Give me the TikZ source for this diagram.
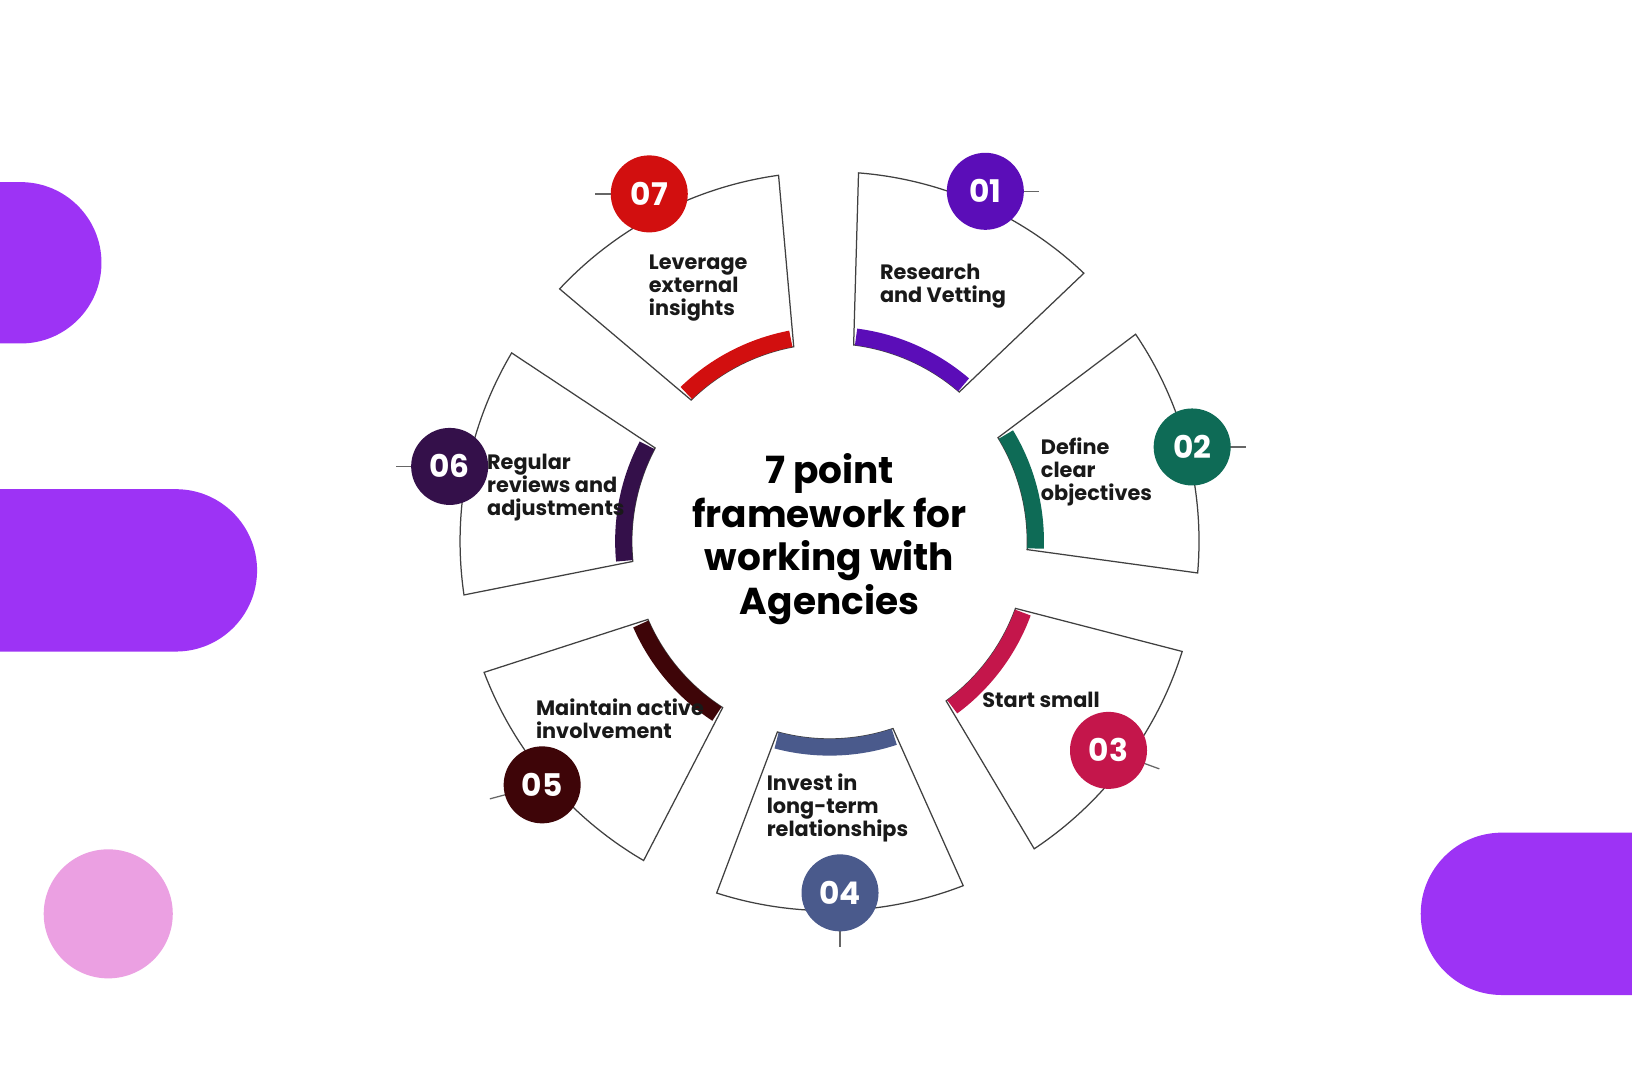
\documentclass[tikz,border=0pt]{standalone}
\usepackage{fontspec}
\setmainfont{Poppins}
\definecolor{bgpurple}{HTML}{9D33F5}
\definecolor{bgpink}{HTML}{EBA0E2}
\definecolor{cA}{HTML}{5B0DB8}
\definecolor{cB}{HTML}{0E6B56}
\definecolor{cC}{HTML}{C4164B}
\definecolor{cD}{HTML}{4A5A8C}
\definecolor{cE}{HTML}{3E0508}
\definecolor{cF}{HTML}{34104A}
\definecolor{cG}{HTML}{D20F0F}
\begin{document}
\begin{tikzpicture}[x=0.5pt,y=0.5pt,
  sectorbox/.style={draw=black!75,line width=0.6pt,fill=white},
  badge/.style={circle,minimum size=37pt,inner sep=0pt,text=white,font=\bfseries\fontsize{15}{15}\selectfont},
  lbl/.style={align=left,font=\fontsize{10}{11}\selectfont\bfseries,text=black!90},
  tick/.style={draw=black!60,line width=0.6pt}]
\clip (0,0) rectangle (1568,1045);
\fill[white] (0,0) rectangle (1568,1045);
% background shapes
\fill[bgpurple] (-5,715) -- (20,715) arc[start angle=-90,end angle=90,radius=77.5] -- (-5,870) -- cycle;
\fill[bgpurple] (-5,419) -- (169,419) arc[start angle=-90,end angle=90,radius=78] -- (-5,575) -- cycle;
\fill[bgpurple] (1575,89) -- (1443,89) arc[start angle=270,end angle=90,radius=78] -- (1575,245) -- cycle;
\fill[bgpink] (104,167) circle[radius=62];
\begin{scope}[shift={(797,525)}]
\foreach \k/\c/\col/\txt/\tk/\br/\tr in {
  01/66/cA/{Research\\and Vetting}/0/368/268,
  02/14.57/cB/{Define\\clear\\objectives}/0/360/265,
  03/-36.86/cC/{Start small}/-20/335/254,
  04/-88.29/cD/{Invest in\\long-term\\relationships}/-90/338/256,
  05/-139.71/cE/{Maintain active\\involvement}/-165/362/264,
  06/168.86/cF/{Regular\\reviews and\\adjustments}/180/372/268,
  07/117.43/cG/{Leverage\\external\\insights}/180/376/274}{
  \draw[sectorbox] (\c-17:190) arc[start angle=\c-17,end angle=\c+17,radius=190]
     -- (\c+19.5:355) arc[start angle=\c+19.5,end angle=\c-19.5,radius=355] -- cycle;
  \draw[\col,line width=8pt] (\c-16.6:198) arc[start angle=\c-16.6,end angle=\c+16.6,radius=198];
  \node[lbl] (t\k) at (\c:\tr) {\txt};
  \coordinate (bc\k) at (\c:\br);
  \draw[tick] (bc\k) -- ++(\tk:52);
  \node[badge,fill=\col] (b\k) at (bc\k) {\k};
}
\end{scope}
\node[align=center,font=\bfseries\fontsize{18}{21}\selectfont] (title) at (797,527)
  {7 point\\framework for\\working with\\Agencies};
\end{tikzpicture}
\end{document}
